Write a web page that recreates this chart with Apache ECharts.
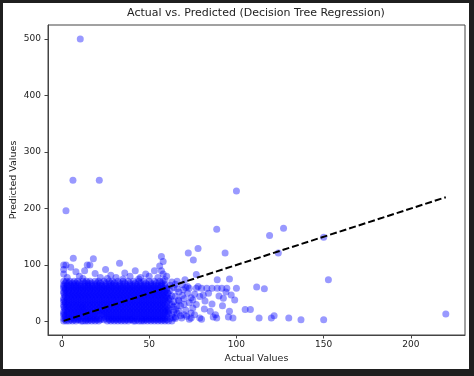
<!DOCTYPE html>
<html>
<head>
<meta charset="utf-8">
<script src="https://cdn.jsdelivr.net/npm/echarts@6/dist/echarts.min.js"></script>
<style>
  html, body { margin: 0; padding: 0; background: #1f1f1f; }
  #chart { position: absolute; left: 3px; top: 3px; width: 466px; height: 366px; background: #fff; }
</style>
</head>
<body>
<div id="chart"></div>
<script>
  // tick labels
  var xTicks = [0, 50, 100, 150, 200];
  var yTicks = [0, 100, 200, 300, 400, 500];

  // dense cluster, one row per predicted value: [predicted, [actual values...]]
  var clusterRows = [
    [1,  [1, 2.5, 4, 6, 8, 11, 12, 13.5, 15, 17, 19, 21, 26, 28, 30, 32, 34, 36, 38, 41, 42, 44, 45.5, 47, 49, 51, 53, 55, 57, 59, 61, 63]],
    [3,  [2, 5, 7, 9, 10, 14, 16, 18, 20, 22, 24, 27, 29, 31, 33, 35, 37, 39, 40, 43, 46, 48, 50, 52, 54, 56, 58, 60]],
    [5,  [1, 3, 5, 7, 9, 11, 13, 15, 17, 19, 21, 22.5, 25, 27, 29, 31, 33, 35, 37, 39, 41, 43, 45, 47, 49, 51, 53, 55, 57, 59, 62, 65]],
    [8,  [2, 4, 6, 8, 10, 12, 14, 16, 18, 20, 24, 26, 28, 30, 32, 34, 36, 38, 40, 42, 44, 46, 48, 50, 52, 54, 56, 58, 60]],
    [11, [1, 2, 4, 6, 8, 10, 12, 14, 16, 18, 20, 22, 24, 26, 28, 30, 32, 34, 36, 38, 40, 42, 44, 46, 48, 50, 52, 54, 56, 58, 60]],
    [14, [1, 3, 5, 7, 9, 11, 13, 15, 17, 19, 21, 23, 25, 27, 29, 31, 33, 35, 37, 39, 41, 43, 45, 47, 49, 51, 53, 55, 57, 59, 61]],
    [17, [1, 3, 5, 7, 9, 11, 13, 15, 17, 19, 21, 23, 25, 27, 29, 31, 33, 35, 37, 39, 41, 43, 45, 47, 49, 51, 53, 55, 57, 59, 61, 64]],
    [20, [2, 4, 6, 8, 10, 12, 14, 16, 18, 20, 22, 24, 26, 28, 30, 32, 34, 36, 38, 40, 42, 44, 46, 48, 50, 52, 54, 56, 58, 60]],
    [23, [1.5, 3.5, 5.5, 7.5, 9.5, 11.5, 13, 15, 17, 19, 21, 23, 25, 27, 29, 31, 33, 35, 37, 39, 41, 43, 45, 47, 49, 51, 53, 55, 57, 59, 61]],
    [26, [1, 2.5, 4.5, 6.5, 8.5, 10.5, 12, 14, 16, 18, 20, 22, 24, 26, 28, 30, 32, 34, 36, 38, 40, 42, 44, 46, 48, 50, 52, 54, 56, 58, 60]],
    [29, [1, 3, 5, 7, 9, 11, 13, 15, 17, 19, 21, 23, 25, 27, 29, 31, 33, 35, 37, 39, 41, 43, 45, 47, 49, 51, 53, 55, 57, 59, 62]],
    [32, [2, 4, 6, 8, 10, 12, 14, 16, 18, 20, 22, 24, 26, 28, 30, 32, 34, 36, 38, 40, 42, 44, 46, 48, 50, 52, 54, 56, 58, 60]],
    [35, [1, 2, 4, 6, 8, 10, 12, 14, 16, 18, 20, 22, 24, 26, 28, 30, 32, 34, 36, 38, 40, 42, 44, 46, 48, 50, 52, 54, 56, 58, 60]],
    [38, [1, 3, 5, 7, 9, 11, 13, 15, 17, 19, 21, 23, 25, 27, 29, 31, 33, 35, 37, 39, 41, 43, 45, 47, 49, 51, 53, 55, 57, 59, 61]],
    [41, [1, 3, 5, 7, 9, 11, 13, 15, 17, 19, 21, 23, 25, 27, 29, 31, 33, 35, 37, 39, 41, 43, 45, 47, 49, 51, 53, 55, 57, 59, 61]],
    [44, [2, 4, 6, 8, 10, 12, 14, 16, 18, 20, 22, 24, 26, 28, 30, 32, 34, 36, 38, 40, 42, 44, 46, 48, 50, 52, 54, 56, 58, 60]],
    [47, [1.5, 3.5, 5.5, 7.5, 9.5, 11.5, 13.5, 15.5, 17.5, 19.5, 21.5, 23.5, 25.5, 27.5, 29.5, 31.5, 33.5, 35.5, 37.5, 39.5, 41.5, 43.5, 45.5, 47.5, 49.5, 51.5, 53.5, 55.5, 57.5, 59.5]],
    [50, [1, 2.5, 4.5, 6.5, 8.5, 10.5, 12.5, 14.5, 16.5, 18.5, 20.5, 22.5, 24.5, 26.5, 28.5, 30.5, 32.5, 34.5, 36.5, 38.5, 40.5, 42.5, 44.5, 46.5, 48.5, 50.5, 52.5, 54.5, 56.5, 58.5, 60.5]],
    [53, [1, 3, 5, 7, 9, 11, 13, 15, 17, 19, 21, 23, 25, 27, 29, 31, 33, 35, 37, 39, 41, 43, 45, 47, 49, 51, 53, 55, 57, 59]],
    [56, [2, 4, 6, 8, 10, 12, 14, 16, 18, 20, 22, 24, 26, 28, 30, 32, 34, 36, 38, 40, 42, 44, 46, 48, 50, 52, 54, 56, 58, 60]],
    [59, [1, 2, 4, 6, 8, 10, 12, 14, 16, 18, 20, 22, 24, 26, 28, 30, 32, 34, 36, 38, 40, 42, 44, 46, 48, 50, 52, 54, 56, 58, 60]],
    [62, [1, 3, 5, 7, 9, 11, 13, 15, 17, 19, 21, 23, 25, 27, 29, 31, 33, 35, 37, 39, 41, 43, 45, 47, 49, 51, 53, 55, 57, 59]],
    [65, [1, 3, 5, 7, 9, 11, 13, 15, 17, 19, 21, 23, 25, 27, 29, 31, 33, 35, 37, 39, 41, 43, 45, 47, 49, 51, 53, 55, 57, 59]],
    [68, [2, 4, 6, 8, 10, 13, 15, 17, 20, 22, 25, 28, 30, 33, 36, 39, 42, 45, 48, 51, 54, 57]],
    [71, [1, 2.5, 4.5, 7, 9, 12, 14, 16, 19, 21, 24, 27, 29, 32, 35, 38, 41, 44, 47, 50, 53, 56, 58]]
  ];

  // scattered points around the cluster
  var fringePoints = [
    [1, 100], [2.3, 100], [1, 92], [1, 84], [3, 78], [6.5, 112], [5, 96], [8, 88], [10, 80],
    [14.5, 100], [16, 100], [18, 111], [13, 90], [19, 85], [22, 78], [25, 92], [28, 82],
    [31, 78], [33, 103], [36, 86], [39, 80], [42, 90], [45, 78], [48, 84], [50, 80], [53, 90],
    [57, 115], [58, 106], [56, 98], [57, 90], [58, 84], [55, 78], [60, 80], [59, 74], [26, 76],
    [12, 76], [35, 75], [44, 75],
    [63, 70], [66, 71], [70.5, 74], [77, 83], [96, 75], [89, 74],
    [73, 59], [77, 59], [80, 59], [83, 59], [86, 59], [89, 59], [91.6, 59], [94.5, 59], [100, 59],
    [111.6, 61], [116, 58],
    [92.5, 41], [97, 47], [99, 38], [86, 31], [81.6, 22], [75, 24], [88, 12], [79, 6], [80, 4],
    [71.5, 9], [95.4, 8], [98, 6], [75, 38], [79, 44], [81, 47], [69.6, 56], [66.7, 38], [65, 21],
    [63.8, 6], [68.6, 6], [74, 6], [86.7, 8], [88.7, 6], [96, 18], [105, 21], [108, 21], [113, 6],
    [120, 6], [121.6, 10], [130, 6], [137, 3], [150, 3], [220, 13],
    [61, 50], [62, 40], [63, 30], [64, 60], [65, 45], [66, 15], [67, 52], [68, 28], [69, 65],
    [70, 40], [71, 20], [72, 50], [73, 33], [74, 15], [76, 48], [77, 30], [78, 62], [82, 36],
    [84, 50], [85, 18], [90, 45], [92, 28], [94, 52], [62, 64], [64, 26], [66, 58], [68, 10],
    [70, 30], [72, 62], [61, 20], [63, 12], [65, 66], [67, 36],
    [62, 55], [63, 45], [64, 35], [65, 8], [66, 28], [67, 18], [69, 46], [70, 12], [71, 60],
    [73, 4], [74, 42], [76, 12]
  ];

  // outliers
  var outlierPoints = [
    [10.5, 500], [6.3, 250], [21.4, 250], [2.3, 196], [100, 231], [88.7, 163.5], [127, 165],
    [119, 152], [124, 121], [93.5, 121], [72.4, 121], [78, 129], [75.3, 109], [150, 149], [152.7, 74]
  ];

  // ideal fit line y = x
  var fitLine = [[1, 1], [220, 220]];

  var scatterData = [];
  clusterRows.forEach(function (row) {
    row[1].forEach(function (x) { scatterData.push([x, row[0]]); });
  });
  scatterData = scatterData.concat(fringePoints, outlierPoints);

  var font = 'DejaVu Sans';
  var chart = echarts.init(document.getElementById('chart'), null, { renderer: 'canvas' });
  chart.setOption({
    animation: false,
    title: {
      text: 'Actual vs. Predicted (Decision Tree Regression)',
      left: 253,
      top: 5,
      textAlign: 'center',
      padding: 0,
      textStyle: { fontFamily: font, fontSize: 11, fontWeight: 'normal', color: '#222' }
    },
    grid: {
      left: 45, top: 22, right: 4, bottom: 34,
      outerBoundsMode: 'none',
      show: true, borderColor: '#444', borderWidth: 1, backgroundColor: '#fff'
    },
    xAxis: {
      type: 'value', min: -8, max: 231,
      name: 'Actual Values', nameLocation: 'middle', nameGap: 19, nameMoveOverlap: false,
      nameTextStyle: { fontFamily: font, fontSize: 9.5, color: '#222' },
      axisLine: { show: true, onZero: false, lineStyle: { color: '#444' } },
      axisTick: { show: true, length: 3.5, customValues: xTicks, lineStyle: { color: '#444' } },
      axisLabel: { customValues: xTicks, fontFamily: font, fontSize: 9, color: '#222', margin: 5 },
      splitLine: { show: false }
    },
    yAxis: {
      type: 'value', min: -24, max: 525,
      name: 'Predicted Values', nameLocation: 'middle', nameGap: 29, nameMoveOverlap: false,
      nameTextStyle: { fontFamily: font, fontSize: 9.5, color: '#222' },
      axisLine: { show: true, onZero: false, lineStyle: { color: '#444' } },
      axisTick: { show: true, length: 3.5, customValues: yTicks, lineStyle: { color: '#444' } },
      axisLabel: { customValues: yTicks, fontFamily: font, fontSize: 9, color: '#222', margin: 7 },
      splitLine: { show: false }
    },
    series: [
      {
        type: 'scatter',
        data: scatterData,
        symbolSize: 7,
        large: false,
        itemStyle: { color: 'rgba(0,0,255,0.5)', borderWidth: 0 },
        z: 2
      },
      {
        type: 'line',
        data: fitLine,
        symbol: 'none',
        lineStyle: { color: '#000', width: 2, type: [7, 3] },
        z: 3
      }
    ]
  });
</script>
</body>
</html>
